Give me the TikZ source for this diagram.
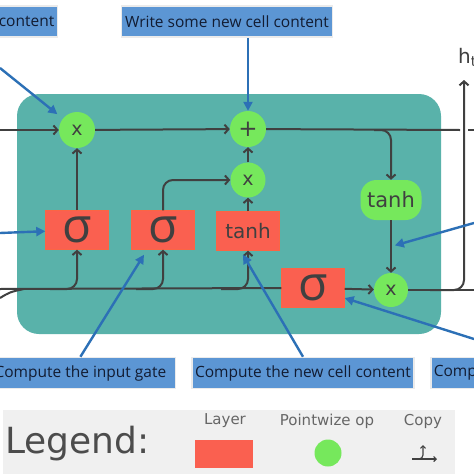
\documentclass[tikz,border=0pt]{standalone}
\usepackage{fontspec}
\setmainfont{Open Sans}
\newfontfamily\dejavu{DejaVu Sans}
\usetikzlibrary{arrows.meta,calc}
\definecolor{cellteal}{RGB}{89,178,170}
\definecolor{opgreen}{RGB}{118,232,92}
\definecolor{layerred}{RGB}{250,96,80}
\definecolor{labelblue}{RGB}{92,150,212}
\definecolor{arrowblue}{RGB}{44,112,182}
\definecolor{linegray}{RGB}{64,64,64}
\definecolor{legendgray}{RGB}{240,240,240}
\definecolor{labeltext}{RGB}{18,28,50}
\begin{document}
\begin{tikzpicture}[x=1pt,y=-1pt,
  flow/.style={draw=linegray,line width=2pt,-{Straight Barb[length=4pt,width=9pt]}},
  plain/.style={draw=linegray,line width=2pt},
  hint/.style={draw=arrowblue,line width=2.4pt,-{Triangle[length=9pt,width=9pt]}},
  layerbox/.style={fill=layerred,draw=layerred!85!orange,minimum width=63pt,minimum height=39pt,inner sep=0pt,text=linegray},
  sig/.style={font=\fontsize{48}{48}\selectfont},
  opcirc/.style={circle,fill=opgreen,minimum size=36pt,inner sep=0pt,text=linegray,font=\dejavu\fontsize{19}{19}\selectfont},
  labelbox/.style={fill=labelblue,draw=black!8,line width=1.5pt,minimum height=31pt,inner ysep=0pt,text=labeltext,font=\fontsize{15.5}{17}\selectfont},
  legtext/.style={font=\dejavu\fontsize{15}{15}\selectfont,text=black!60},
]
\useasboundingbox (0,0) rectangle (474,474);
\clip (0,0) rectangle (474,474);
\fill[white] (0,0) rectangle (474,474);

% cell body
\fill[cellteal, rounded corners=22pt] (17,94) rectangle (441,334);

% operation nodes
\node[opcirc] (fx) at (77,130) {x};
\node[opcirc,font=\dejavu\fontsize{23}{23}\selectfont] (add) at (248,129) {+};
\node[opcirc,minimum size=35pt] (ix) at (248,180) {x};
\node[opcirc,minimum size=34pt] (ox) at (391,290) {x};
\node[rounded corners=16pt,fill=opgreen,minimum width=61pt,minimum height=40pt,inner sep=0pt,text=linegray,font=\dejavu\fontsize{21}{21}\selectfont] (th) at (391,200) {tanh};

% layer nodes
\node[layerbox,sig] (sf) at (77,230) {σ};
\node[layerbox,sig] (si) at (163,230) {σ};
\node[layerbox,font=\dejavu\fontsize{20}{20}\selectfont] (tl) at (248,231) {tanh};
\node[layerbox,sig] (so) at (313,288) {σ};

% free ends
\coordinate (cin) at (0,130);
\coordinate (hin) at (0,289);
\coordinate (xin) at (0,298);
\coordinate (ht) at (464,80);
\coordinate (cgap) at (460,130);
\coordinate (cres) at (468,130);
\coordinate (cout) at (474,130);
\coordinate (hout) at (474,290);

% cell state line
\draw[flow] (cin) -- (fx);
\draw[flow] (fx) -- (add);
\draw[plain] (add) -- (cgap);
\draw[plain] (cres) -- (cout);
\draw[flow,rounded corners=10pt] (374,130) -| (th.north);

% gates
\draw[flow] (sf) -- (fx);
\draw[flow,rounded corners=10pt] (si.north) |- (ix.west);
\draw[flow] (tl) -- (ix);
\draw[flow] (ix) -- (add);
\draw[flow] (th) -- (ox);
\draw[flow] (so) -- (ox);

% input line and branches
\draw[plain] (hin) -- (so.west);
\draw[plain] (xin) .. controls (10,292) .. (24,289);
\draw[flow,rounded corners=10pt] (50,289) -| (sf.south);
\draw[flow,rounded corners=10pt] (136,289) -| (si.south);
\draw[flow,rounded corners=10pt] (221,289) -| (tl.south);

% output
\draw[plain] (ox.east) -- (hout);
\draw[flow,rounded corners=10pt] (430,290) -| (ht);
\node[anchor=base west,font=\dejavu\fontsize{20}{20}\selectfont,text=linegray,inner sep=0pt] (hlabel) at (458,63) {h\textsubscript{t}};

% label boxes
\node[labelbox,anchor=east,text width=64pt,align=right,inner xsep=3pt] (fl) at (58,21.5) {content};
\node[labelbox,minimum width=208pt] (wl) at (227,21.5) {Write some new cell content};
\node[labelbox,anchor=east,inner xsep=9pt] (ig) at (176,373) {Compute the input gate};
\node[labelbox,minimum width=220pt] (nc) at (303,373) {Compute the new cell content};
\node[labelbox,anchor=west,text width=50pt,align=left,inner xsep=3pt] (og) at (430,373) {Comp};

% explanation arrows
\coordinate (fgsrc) at (0,68);
\coordinate (fgate) at (0,233);
\coordinate (outsrc) at (474,223);
\coordinate (ogsrc) at (474,339);
\draw[hint,shorten >=7pt] (fgsrc) -- (fx);
\draw[hint] (fgate) -- (sf);
\draw[hint] (wl.south -| add) -- (add);
\draw[hint] (ig.north) -- ($(si.south)+(-19,5)$);
\draw[hint] (nc.north) -- ($(tl.south)+(-5,4)$);
\draw[hint,shorten >=4pt] (outsrc) -- ($(th.south)!0.5!(ox.north)$);
\draw[hint] (ogsrc) -- (so);

% legend
\node[fill=legendgray,minimum width=452pt,minimum height=64pt,anchor=north west,inner sep=0pt] (legend) at (3,410) {};
\node[anchor=base west,font=\dejavu\fontsize{36}{36}\selectfont,text=black!70,inner sep=0pt] (legt) at (5,453) {Legend:};
\node[legtext] (lay) at (225,421) {Layer};
\node[legtext] (pw) at (327,421) {Pointwize op};
\node[legtext] (cp) at (423,421) {Copy};
\node[fill=layerred,minimum width=58pt,minimum height=28pt,inner sep=0pt] (lr) at (224,454) {};
\node[circle,fill=opgreen,minimum size=27pt,inner sep=0pt] (lc) at (328,453) {};
\coordinate (cpa) at (412,459);
\coordinate (cpb) at (437,459);
\coordinate (cpc) at (423,445);
\draw[draw=linegray,line width=1.2pt,-{Straight Barb[length=2.5pt,width=5pt]}] (cpa) -- (cpb);
\draw[draw=linegray,line width=1.2pt,rounded corners=4pt,-{Straight Barb[length=2.5pt,width=5pt]}] (417,459) -| (cpc);
\end{tikzpicture}
\end{document}
